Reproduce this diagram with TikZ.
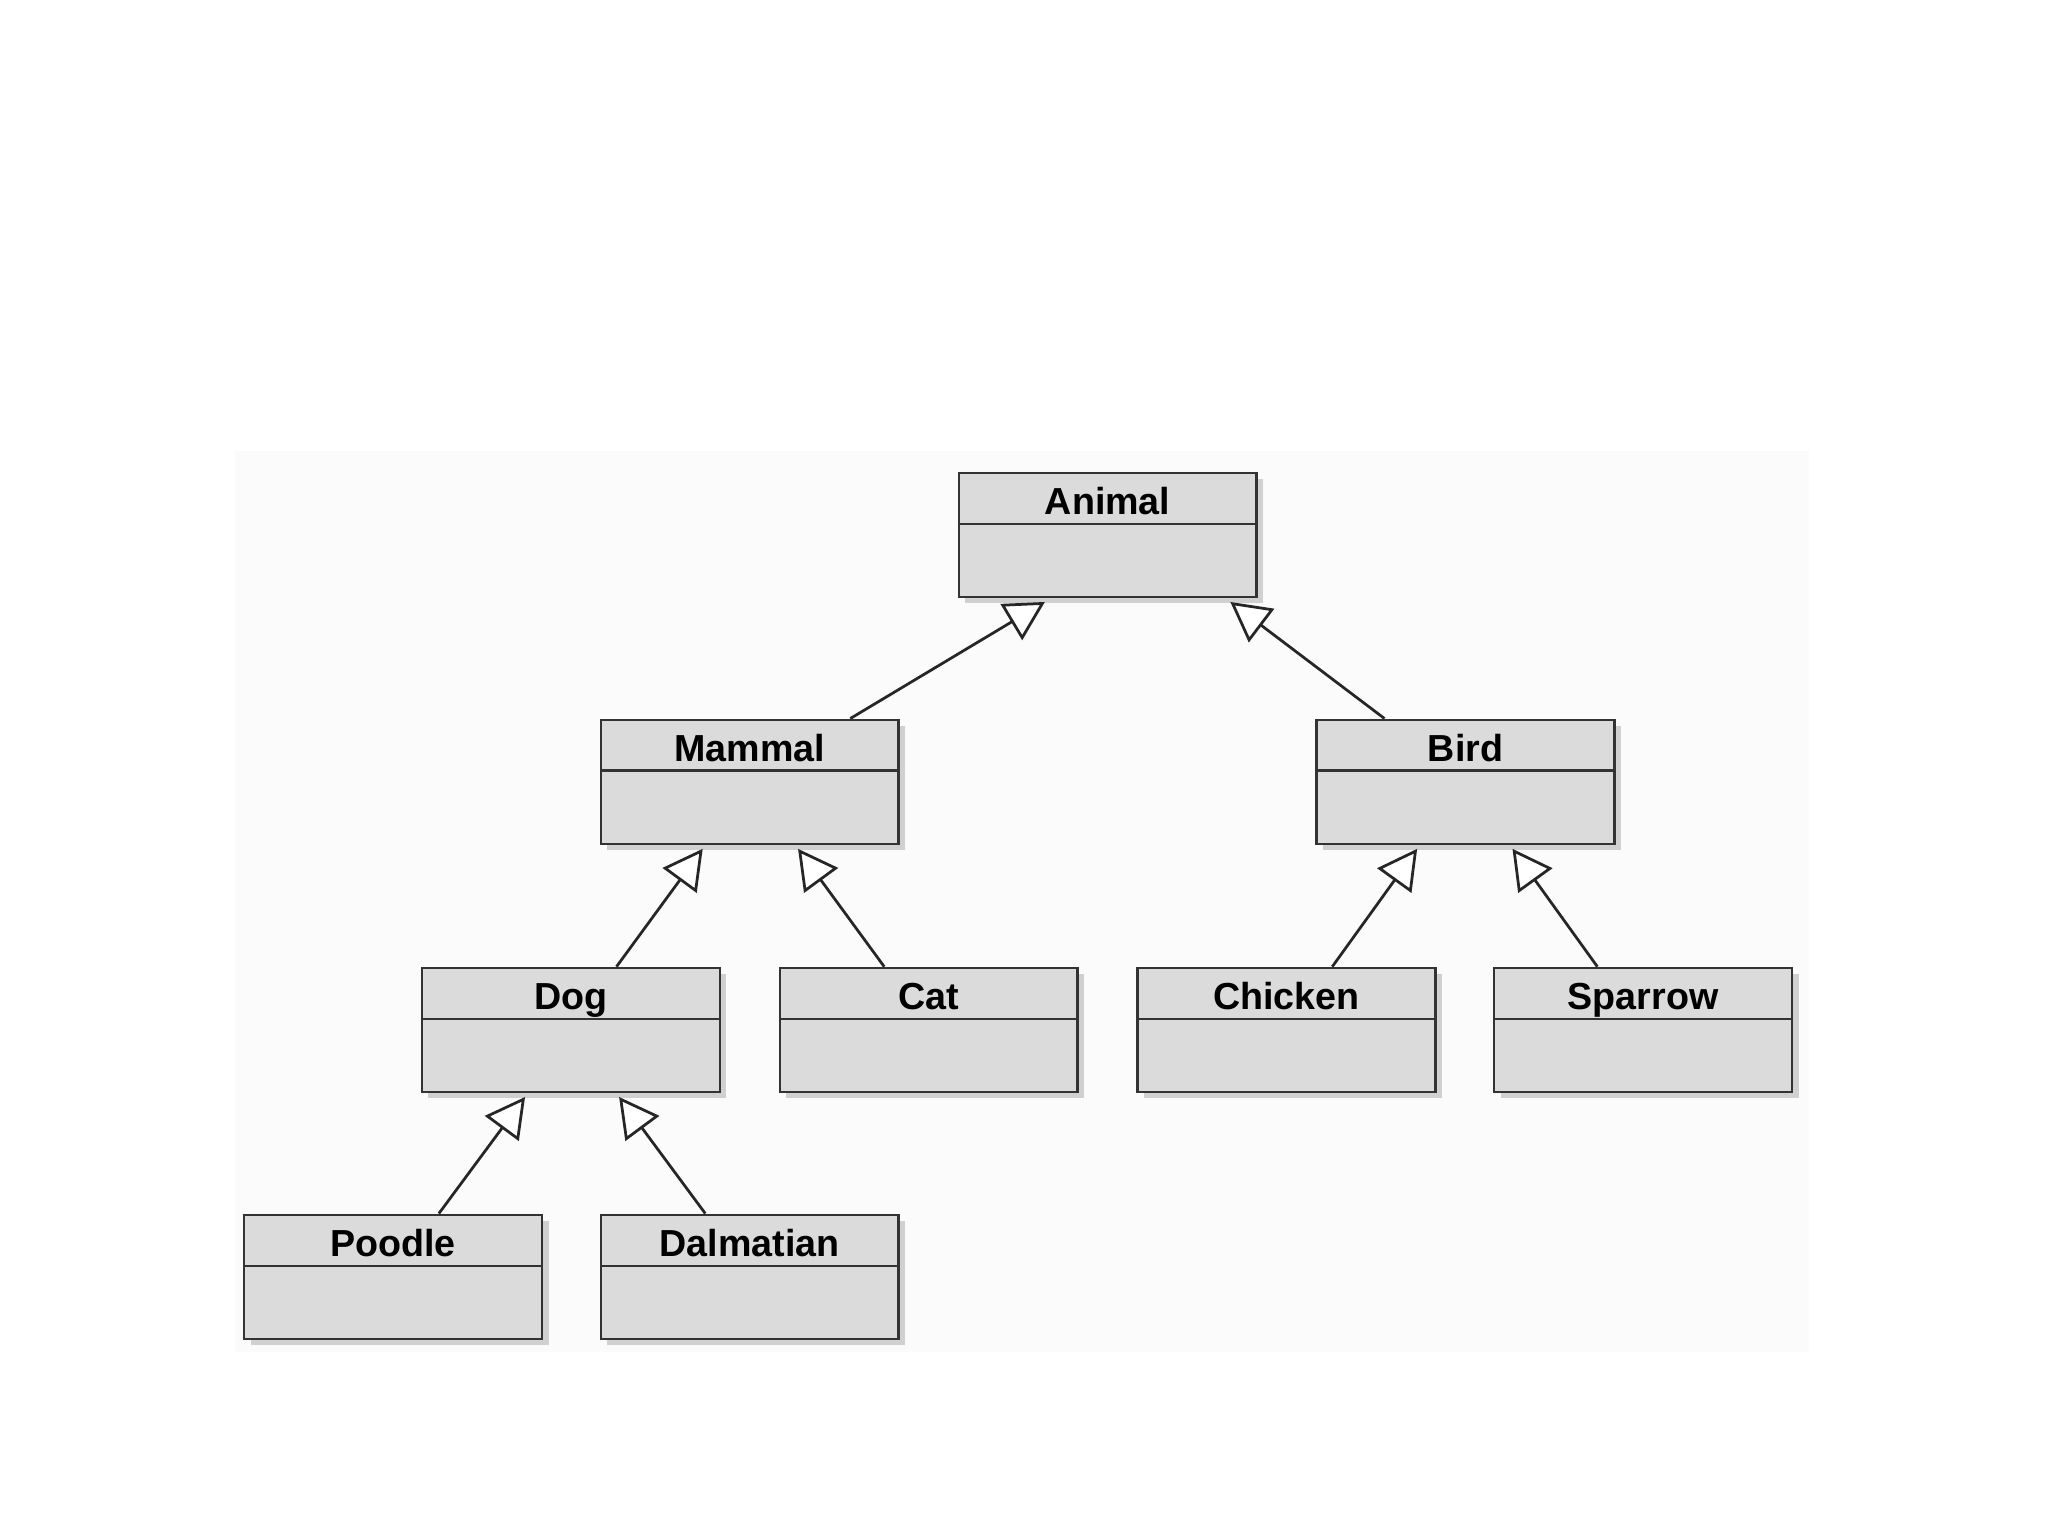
\documentclass[tikz,border=0pt]{standalone}
\usepackage{fontspec}
\setmainfont{Liberation Sans}
\usetikzlibrary{arrows.meta,calc,shadows}
\begin{document}
\begin{tikzpicture}[x=0.1mm,y=-0.1mm,
  box/.style={draw=black!80,line width=0.5pt,fill=black!14,minimum width=22.8mm,minimum height=9.5mm,inner sep=0pt,
    drop shadow={shadow xshift=0.5mm,shadow yshift=-0.5mm,opacity=0.35}},
  ttl/.style={font=\bfseries\fontsize{8.2}{10}\selectfont,inner sep=0pt,text height=1.6ex,text depth=0.4ex},
  inh/.style={draw=black!85,line width=0.6pt,-{Triangle[open,length=3mm,width=3.2mm,fill=white]}}]
\useasboundingbox (0,0) rectangle (1568,1176);
\fill[black!1.5] (180,345) rectangle (1385,1035);
\newcommand{\cls}[4]{%
  \node[box] (#1) at (#2+114,#3+47.5) {};
  \draw[black!80,line width=0.5pt] (#1.west) ++(0,0.85mm) coordinate (#1-l) -- (#1-l -| #1.east);
  \node[ttl] (#1-t) at (#2+114,#3+21) {#4};}
\cls{animal}{734}{362}{Animal}
\cls{mammal}{460}{551}{Mammal}
\cls{bird}{1008}{551}{Bird}
\cls{dog}{323}{741}{Dog}
\cls{cat}{597}{741}{Cat}
\cls{chicken}{871}{741}{Chicken}
\cls{sparrow}{1144}{741}{Sparrow}
\cls{poodle}{187}{930}{Poodle}
\cls{dalmatian}{460}{930}{Dalmatian}
\draw[inh] ([xshift=7.7mm]mammal.north) -- ([xshift=-4.8mm,yshift=-0.3mm]animal.south);
\draw[inh] ([xshift=-6.2mm]bird.north) -- ([xshift=9.4mm,yshift=-0.3mm]animal.south);
\draw[inh] ([xshift=3.5mm]dog.north) -- ([xshift=-3.6mm,yshift=-0.3mm]mammal.south);
\draw[inh] ([xshift=-3.4mm]cat.north) -- ([xshift=3.7mm,yshift=-0.3mm]mammal.south);
\draw[inh] ([xshift=3.5mm]chicken.north) -- ([xshift=-3.7mm,yshift=-0.3mm]bird.south);
\draw[inh] ([xshift=-3.5mm]sparrow.north) -- ([xshift=3.6mm,yshift=-0.3mm]bird.south);
\draw[inh] ([xshift=3.5mm]poodle.north) -- ([xshift=-3.5mm,yshift=-0.3mm]dog.south);
\draw[inh] ([xshift=-3.4mm]dalmatian.north) -- ([xshift=3.7mm,yshift=-0.3mm]dog.south);
\end{tikzpicture}
\end{document}
